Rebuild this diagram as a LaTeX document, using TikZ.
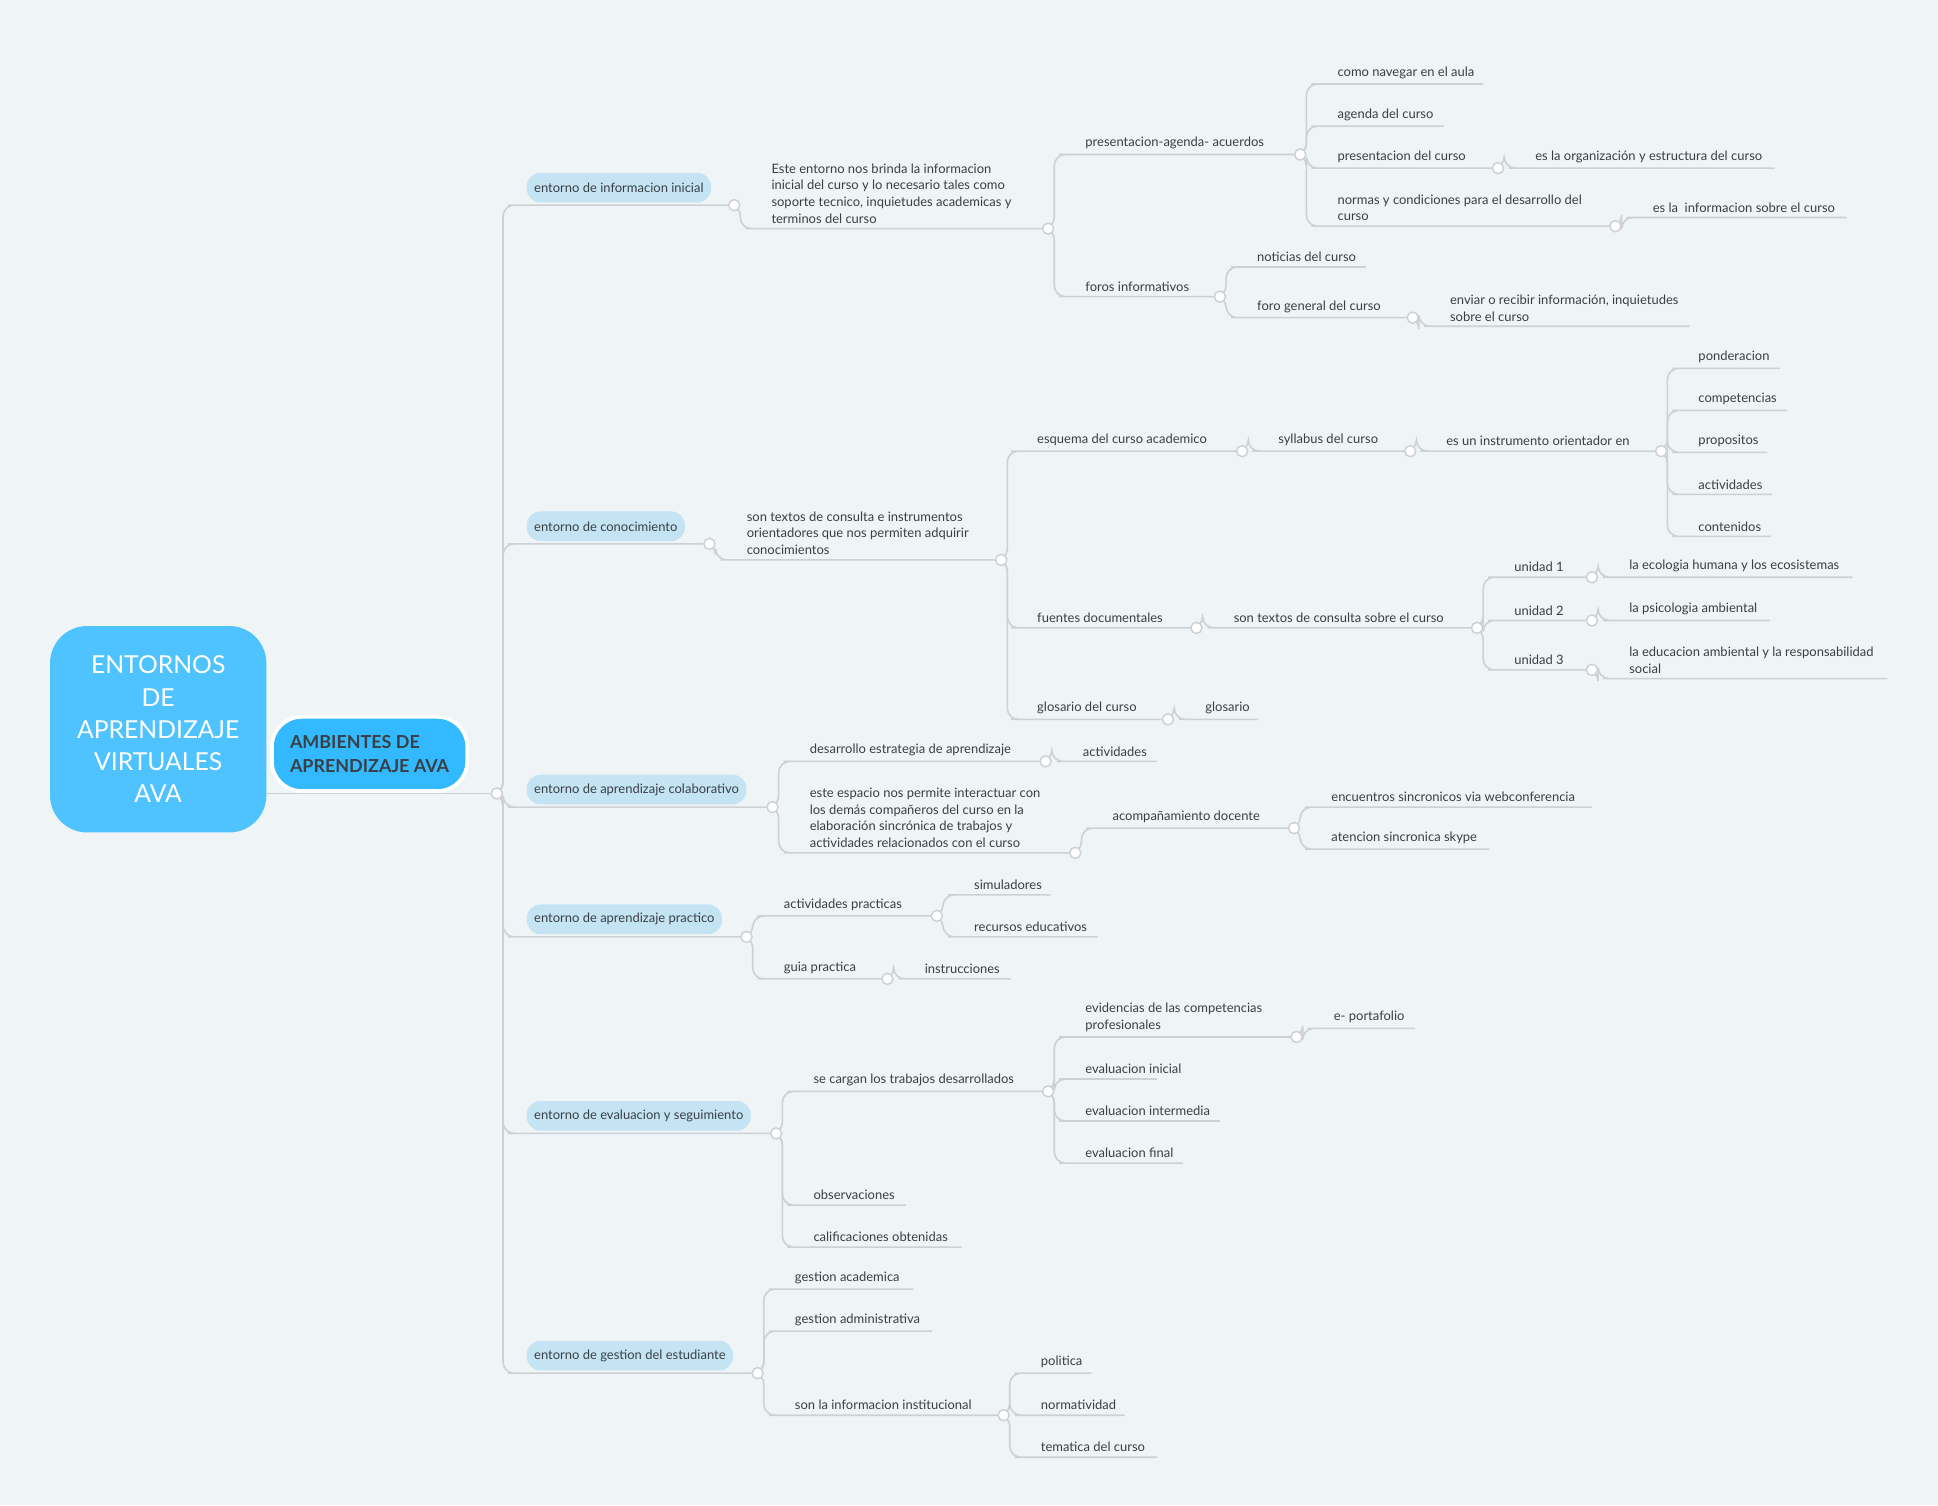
\documentclass[tikz,border=0pt]{standalone}
\usepackage{fontspec}
\setmainfont{Lato}
\definecolor{bg}{HTML}{EFF4F7}
\definecolor{ln}{HTML}{CDD1D5}
\definecolor{tx}{HTML}{3A3F44}
\definecolor{pill}{HTML}{C4E4F4}
\definecolor{rootc}{HTML}{4FC3FF}
\definecolor{mainc}{HTML}{33B9FF}
\tikzset{
 conn/.style={draw=ln,line width=1.3pt,rounded corners=9pt},
 lbl/.style={inner sep=0pt,align=left,text=tx,font=\fontsize{10.5}{13.5}\selectfont},
 pillbox/.style={fill=pill,rounded corners=11pt,inner xsep=6pt,inner ysep=0pt,minimum height=24pt,text=tx,font=\fontsize{10.5}{13}\selectfont},
 jn/.style={circle,draw=ln,fill=white,line width=1.2pt,minimum size=9pt,inner sep=0pt}
}
\newcommand\br[6]{%
 \draw[conn] (#2) -- ++(5,0) |- (#3-12,#4) -- (#5,#4);
 \node[lbl,anchor=south west] (#1) at (#3,#4-4) {#6};}
\newcommand\pl[6]{%
 \draw[conn] (#2) -- ++(5,0) |- (#3-12,#4) -- (#5,#4);
 \node[pillbox,anchor=south west] (#1) at (#3-6,#4-2) {#6};}
\begin{document}
\begin{tikzpicture}[x=1pt,y=-1pt]
\fill[bg] (0,0) rectangle (1568,1218);
\useasboundingbox (0,0) rectangle (1568,1218);
% junctions
\foreach \n/\x/\y in {J0/402/642,a/594/166,a1/848/185,a11/1052/125,a113/1212/136,a114/1307/183,a12/987/240,a122/1143/257,
 b/574/440,b1/810/453,b11/1005/365,b111/1141/365,b1111/1344/365,b12/968/508,b121/1195/508,u1/1288/467,u2/1288/502,u3/1288/542,b13/945/582,
 c/625/653,c1/846/616,c2/870/690,c21/1047/670,d/604/758,d1/758/741,d2/718/792,e/628/917,e1/848/883,e11/1049/839,f/613/1111,f3/812/1145}
 \coordinate (\n) at (\x,\y);
% root
\node[fill=rootc,rounded corners=30pt,minimum width=175pt,minimum height=167pt,text=white,align=center,
 font=\fontsize{20}{26}\selectfont] (root) at (128,590) {ENTORNOS\\DE\\APRENDIZAJE\\VIRTUALES\\AVA};
\draw[conn] (root.east |- J0) -- (J0);
\node[fill=mainc,draw=white,line width=3pt,rounded corners=24pt,minimum width=158pt,minimum height=60pt,text=tx,align=left,
 font=\bfseries\fontsize{14.5}{19}\selectfont] (main) at (299,610) {AMBIENTES DE\\APRENDIZAJE AVA};
% level 1
\pl{E1}{J0}{432}{166}{594}{entorno de informacion inicial}
\pl{E2}{J0}{432}{440}{574}{entorno de conocimiento}
\pl{E3}{J0}{432}{653}{625}{entorno de aprendizaje colaborativo}
\pl{E4}{J0}{432}{758}{604}{entorno de aprendizaje practico}
\pl{E5}{J0}{432}{917}{628}{entorno de evaluacion y seguimiento}
\pl{E6}{J0}{432}{1111}{613}{entorno de gestion del estudiante}
% E1
\br{t1}{a}{624}{185}{848}{Este entorno nos brinda la informacion\\inicial del curso y lo necesario tales como\\soporte tecnico, inquietudes academicas y\\terminos del curso}
\br{t11}{a1}{878}{125}{1052}{presentacion-agenda- acuerdos}
\br{t111}{a11}{1082}{68}{1200}{como navegar en el aula}
\br{t112}{a11}{1082}{102}{1168}{agenda del curso}
\br{t113}{a11}{1082}{136}{1212}{presentacion del curso}
\br{t1131}{a113}{1242}{136}{1436}{es la organización y estructura del curso}
\br{t114}{a11}{1082}{183}{1307}{normas y condiciones para el desarrollo del\\curso}
\br{t1141}{a114}{1337}{176}{1494}{es la\ \ informacion sobre el curso}
\br{t12}{a1}{878}{240}{987}{foros informativos}
\br{t121}{a12}{1017}{216}{1105}{noticias del curso}
\br{t122}{a12}{1017}{257}{1143}{foro general del curso}
\br{t1221}{a122}{1173}{264}{1367}{enviar o recibir información, inquietudes\\sobre el curso}
% E2
\br{s1}{b}{604}{453}{810}{son textos de consulta e instrumentos\\orientadores que nos permiten adquirir\\conocimientos}
\br{s11}{b1}{839}{365}{1005}{esquema del curso academico}
\br{s111}{b11}{1034}{365}{1141}{syllabus del curso}
\br{s1111}{b111}{1170}{365}{1344}{es un instrumento orientador en}
\br{p1}{b1111}{1374}{298}{1440}{ponderacion}
\br{p2}{b1111}{1374}{332}{1446}{competencias}
\br{p3}{b1111}{1374}{366}{1430}{propositos}
\br{p4}{b1111}{1374}{400}{1434}{actividades}
\br{p5}{b1111}{1374}{434}{1433}{contenidos}
\br{s12}{b1}{839}{508}{968}{fuentes documentales}
\br{s121}{b12}{998}{508}{1195}{son textos de consulta sobre el curso}
\br{v1}{b121}{1225}{467}{1288}{unidad 1}
\br{v2}{b121}{1225}{502}{1288}{unidad 2}
\br{v3}{b121}{1225}{542}{1288}{unidad 3}
\br{w1}{u1}{1318}{467}{1499}{la ecologia humana y los ecosistemas}
\br{w2}{u2}{1318}{502}{1432}{la psicologia ambiental}
\br{w3}{u3}{1318}{549}{1527}{la educacion ambiental y la responsabilidad\\social}
\br{s13}{b1}{839}{582}{945}{glosario del curso}
\br{s131}{b13}{975}{582}{1018}{glosario}
% E3
\br{c1t}{c}{655}{616}{846}{desarrollo estrategia de aprendizaje}
\br{c11t}{c1}{876}{616}{936}{actividades}
\br{c2t}{c}{655}{690}{870}{este espacio nos permite interactuar con\\los demás compañeros del curso en la\\elaboración sincrónica de trabajos y\\actividades relacionados con el curso}
\br{c21t}{c2}{900}{670}{1047}{acompañamiento docente}
\br{c211}{c21}{1077}{653}{1288}{encuentros sincronicos via webconferencia}
\br{c212}{c21}{1077}{687}{1205}{atencion sincronica skype}
% E4
\br{d1t}{d}{634}{741}{758}{actividades practicas}
\br{d11}{d1}{788}{724}{850}{simuladores}
\br{d12}{d1}{788}{758}{888}{recursos educativos}
\br{d2t}{d}{634}{792}{718}{guia practica}
\br{d21}{d2}{748}{792}{818}{instrucciones}
% E5
\br{e1t}{e}{658}{883}{848}{se cargan los trabajos desarrollados}
\br{e11t}{e1}{878}{839}{1049}{evidencias de las competencias\\profesionales}
\br{e111}{e11}{1079}{832}{1145}{e- portafolio}
\br{e12}{e1}{878}{873}{936}{evaluacion inicial}
\br{e13}{e1}{878}{907}{987}{evaluacion intermedia}
\br{e14}{e1}{878}{941}{957}{evaluacion final}
\br{e2t}{e}{658}{975}{733}{observaciones}
\br{e3t}{e}{658}{1009}{778}{calificaciones obtenidas}
% E6
\br{f1t}{f}{643}{1043}{739}{gestion academica}
\br{f2t}{f}{643}{1077}{754}{gestion administrativa}
\br{f3t}{f}{643}{1145}{812}{son la informacion institucional}
\br{f31}{f3}{842}{1111}{883}{politica}
\br{f32}{f3}{842}{1145}{910}{normatividad}
\br{f33}{f3}{842}{1179}{936}{tematica del curso}
% junction circles
\foreach \n in {J0,a,a1,a11,a113,a114,a12,a122,b,b1,b11,b111,b1111,b12,b121,u1,u2,u3,b13,c,c1,c2,c21,d,d1,d2,e,e1,e11,f,f3}
 \node[jn] at (\n) {};
\end{tikzpicture}
\end{document}
